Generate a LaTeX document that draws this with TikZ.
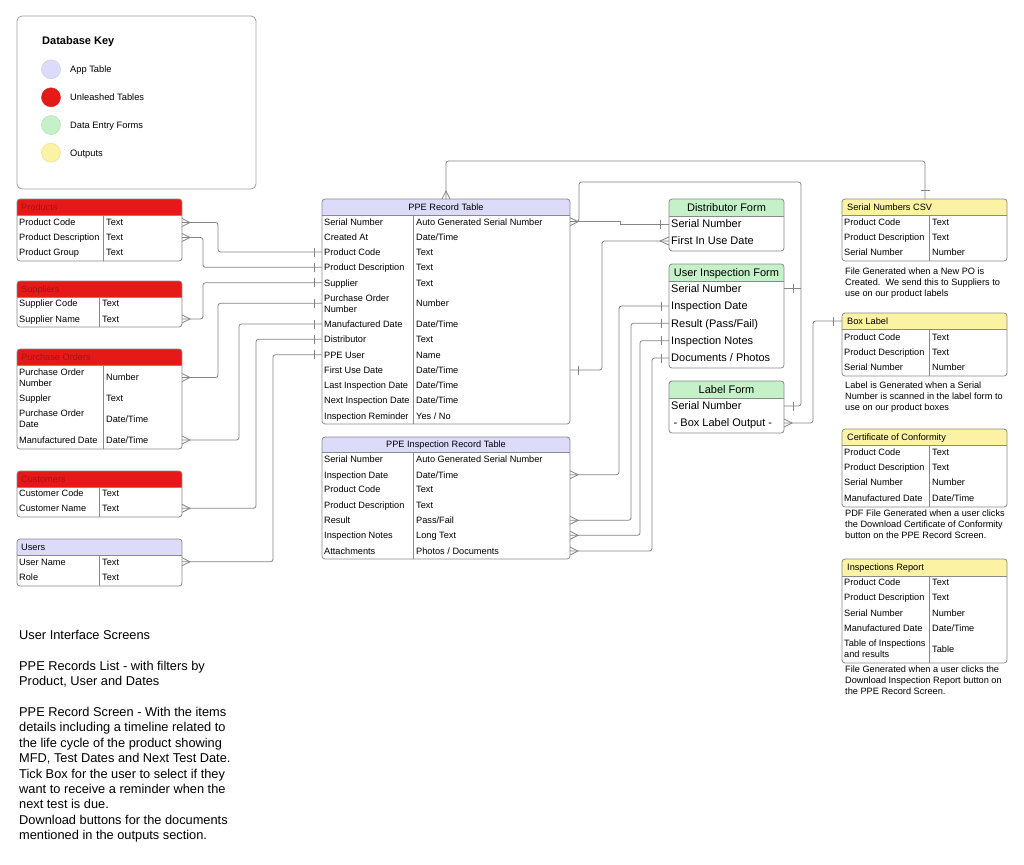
\documentclass[tikz,border=0pt]{standalone}
\usepackage{fontspec}
\setmainfont{Liberation Sans}
\usetikzlibrary{calc}
\definecolor{lav}{HTML}{DCDCFA}
\definecolor{ured}{HTML}{E61919}
\definecolor{uredtxt}{HTML}{A31414}
\definecolor{fgreen}{HTML}{C4F1C8}
\definecolor{oyel}{HTML}{FCF2A4}
\definecolor{bord}{HTML}{8A8A8A}
\definecolor{lnk}{HTML}{858585}
\tikzset{
  tb/.style={draw=bord, line width=0.8pt},
  cn/.style={draw=lnk, line width=0.8pt, rounded corners=2.5pt},
  cnt/.style={draw=lnk, line width=0.8pt, sharp corners},
  cell/.style={inner sep=0pt, font=\fontsize{9.2}{11}\selectfont, text height=8pt, text depth=1.4pt, anchor=west},
  celltwo/.style={inner sep=0pt, font=\fontsize{9.2}{11}\selectfont, align=left, anchor=west},
  hdr/.style={cell},
  ftxt/.style={inner sep=0pt, font=\fontsize{11}{13}\selectfont, text height=9.5pt, text depth=1.6pt, anchor=west},
  fhdr/.style={ftxt, anchor=center},
  big/.style={inner sep=0pt, font=\fontsize{12.8}{15.4}\selectfont, text height=11pt, text depth=2pt, anchor=west},
  keyt/.style={inner sep=0pt, font=\bfseries\fontsize{11}{13}\selectfont, text height=9.5pt, text depth=1.6pt, anchor=west},
}
\newcommand\boxtab[7]{%
  \begin{scope}
    \clip[rounded corners=3pt] (#2,#4) rectangle (#3,#6);
    \fill[white] (#2,#4) rectangle (#3,#6);
    \fill[#7] (#2,#4) rectangle (#3,#5);
  \end{scope}
  \draw[tb] (#2,#5) -- (#3,#5);
  \draw[tb,rounded corners=3pt] (#2,#4) rectangle (#3,#6);
  \coordinate (#1-hw) at (#2,{(#4+#5)/2});
}
\newcommand\erow[7]{%
  \coordinate (#1-w) at (#2,#5);
  \coordinate (#1-e) at (#3,#5);
  \node[cell] (#1-l) at ({#2+2},#5) {#6};
  \node[cell] (#1-r) at ({#4+3},#5) {#7};
}
\newcommand\erowt[7]{%
  \coordinate (#1-w) at (#2,#5);
  \coordinate (#1-e) at (#3,#5);
  \node[celltwo] (#1-l) at ({#2+2},#5) {#6};
  \node[cell] (#1-r) at ({#4+3},#5) {#7};
}
\newcommand\frow[5]{%
  \coordinate (#1-w) at (#2,#4);
  \coordinate (#1-e) at (#3,#4);
  \node[ftxt] (#1-l) at ({#2+2},#4) {#5};
}
\newcommand\desc[5]{%
  \node[cell] (#1-1) at (845,#2) {#3};
  \node[cell] (#1-2) at (845,{#2+11}) {#4};
  \node[cell] (#1-3) at (845,{#2+22}) {#5};
}
\newcommand\crowE[1]{\draw[cnt] ($(#1)+(0,-4)$) -- ($(#1)+(8,0)$) -- ($(#1)+(0,4)$);}
\newcommand\crowW[1]{\draw[cnt] ($(#1)+(0,-4)$) -- ($(#1)+(-9,0)$) -- ($(#1)+(0,4)$);}
\newcommand\crowN[1]{\draw[cnt] ($(#1)+(-4,0)$) -- ($(#1)+(0,-8)$) -- ($(#1)+(4,0)$);}
\newcommand\barV[2]{\draw[cnt] ($(#1)+(#2,-4.5)$) -- ++(0,9);}
\newcommand\barH[2]{\draw[cnt] ($(#1)+(-4.5,#2)$) -- ++(9,0);}

\begin{document}
\begin{tikzpicture}[x=1pt,y=-1pt]
\useasboundingbox (0,0) rectangle (1024,864);
\fill[white] (0,0) rectangle (1024,864);

% ---------------- key
\node[draw=gray!75, line width=0.8pt, rounded corners=5pt, minimum width=239pt, minimum height=173pt, inner sep=0pt] (key) at (136.5,102.5) {};
\node[keyt] (key-t) at (42,40.5) {Database Key};
\foreach \c/\t/\y [count=\i] in {lav/App Table/69.3, ured/Unleashed Tables/97.3, fgreen/Data Entry Forms/125, oyel/Outputs/152.7}{
  \node[circle, fill=\c, draw=\c!85!gray, line width=0.5pt, minimum size=19pt, inner sep=0pt] (key-c\i) at (51,\y) {};
  \node[cell, font=\fontsize{9.3}{11}\selectfont] (key-l\i) at (70,\y) {\t};
}

% ---------------- left tables
\boxtab{prod}{17}{182}{199}{215}{261}{ured}
\draw[tb] (103,215) -- (103,261);
\node[hdr,text=uredtxt] (prod-h) at (21,207) {Products};
\erow{prod-code}{17}{182}{103}{222.5}{Product Code}{Text}
\erow{prod-desc}{17}{182}{103}{237.5}{Product Description}{Text}
\erow{prod-grp}{17}{182}{103}{252.5}{Product Group}{Text}

\boxtab{sup}{17}{182}{281}{297}{327}{ured}
\draw[tb] (99,297) -- (99,327);
\node[hdr,text=uredtxt] (sup-h) at (21,289) {Suppliers};
\erow{sup-code}{17}{182}{99}{303.5}{Supplier Code}{Text}
\erow{sup-name}{17}{182}{99}{319}{Supplier Name}{Text}

\boxtab{po}{17}{182}{349}{365}{449}{ured}
\draw[tb] (103,365) -- (103,449);
\node[hdr,text=uredtxt] (po-h) at (21,357) {Purchase Orders};
\erowt{po-num}{17}{182}{103}{377.5}{Purchase Order\\Number}{Number}
\erow{po-sup}{17}{182}{103}{398.3}{Suppler}{Text}
\erowt{po-date}{17}{182}{103}{419}{Purchase Order\\Date}{Date/Time}
\erow{po-mfd}{17}{182}{103}{440}{Manufactured Date}{Date/Time}

\boxtab{cust}{17}{182}{471}{487}{517}{ured}
\draw[tb] (99,487) -- (99,517);
\node[hdr,text=uredtxt] (cust-h) at (21,479) {Customers};
\erow{cust-code}{17}{182}{99}{493.3}{Customer Code}{Text}
\erow{cust-name}{17}{182}{99}{508.3}{Customer Name}{Text}

\boxtab{usr}{17}{182}{539}{555}{586}{lav}
\draw[tb] (99,555) -- (99,586);
\node[hdr] (usr-h) at (21,547) {Users};
\erow{user-name}{17}{182}{99}{561.7}{User Name}{Text}
\erow{user-role}{17}{182}{99}{576.7}{Role}{Text}

% ---------------- PPE record table
\boxtab{ppe}{322}{570}{199}{215}{424}{lav}
\draw[tb] (413,215) -- (413,424);
\node[hdr,anchor=center] (ppe-h) at (446,207) {PPE Record Table};
\erow{ppe-serial}{322}{570}{413}{221.7}{Serial Number}{Auto Generated Serial Number}
\erow{ppe-created}{322}{570}{413}{237}{Created At}{Date/Time}
\erow{ppe-pcode}{322}{570}{413}{252}{Product Code}{Text}
\erow{ppe-pdesc}{322}{570}{413}{267.3}{Product Description}{Text}
\erow{ppe-sup}{322}{570}{413}{282.7}{Supplier}{Text}
\erowt{ppe-ponum}{322}{570}{413}{303.3}{Purchase Order\\Number}{Number}
\erow{ppe-mfd}{322}{570}{413}{324}{Manufactured Date}{Date/Time}
\erow{ppe-dist}{322}{570}{413}{339.3}{Distributor}{Text}
\erow{ppe-user}{322}{570}{413}{354.7}{PPE User}{Name}
\erow{ppe-first}{322}{570}{413}{370}{First Use Date}{Date/Time}
\erow{ppe-last}{322}{570}{413}{385.3}{Last Inspection Date}{Date/Time}
\erow{ppe-next}{322}{570}{413}{400.3}{Next Inspection Date}{Date/Time}
\erow{ppe-remind}{322}{570}{413}{415.7}{Inspection Reminder}{Yes / No}
\coordinate (ppe-top) at (446,199);

% ---------------- PPE inspection record table
\boxtab{pir}{322}{570}{437}{452}{559}{lav}
\draw[tb] (413,452) -- (413,559);
\node[hdr,anchor=center] (pir-h) at (446,444.5) {PPE Inspection Record Table};
\erow{pir-serial}{322}{570}{413}{459.3}{Serial Number}{Auto Generated Serial Number}
\erow{pir-idate}{322}{570}{413}{474.7}{Inspection Date}{Date/Time}
\erow{pir-pcode}{322}{570}{413}{489.3}{Product Code}{Text}
\erow{pir-pdesc}{322}{570}{413}{505}{Product Description}{Text}
\erow{pir-result}{322}{570}{413}{520.3}{Result}{Pass/Fail}
\erow{pir-notes}{322}{570}{413}{535.3}{Inspection Notes}{Long Text}
\erow{pir-attach}{322}{570}{413}{551}{Attachments}{Photos / Documents}

% ---------------- forms
\boxtab{df}{669}{784}{199}{216}{251}{fgreen}
\node[fhdr] (df-h) at (726.5,207.5) {Distributor Form};
\frow{df-serial}{669}{784}{224}{Serial Number}
\frow{df-first}{669}{784}{241}{First In Use Date}

\boxtab{uif}{669}{784}{264}{281}{368}{fgreen}
\node[fhdr] (uif-h) at (726.5,272.5) {User Inspection Form};
\frow{uif-serial}{669}{784}{288.5}{Serial Number}
\frow{uif-idate}{669}{784}{306}{Inspection Date}
\frow{uif-result}{669}{784}{323.3}{Result (Pass/Fail)}
\frow{uif-notes}{669}{784}{340.7}{Inspection Notes}
\frow{uif-docs}{669}{784}{358}{Documents / Photos}

\boxtab{lf}{669}{784}{381}{398}{433}{fgreen}
\node[fhdr] (lf-h) at (726.5,389.5) {Label Form};
\frow{lf-serial}{669}{784}{406}{Serial Number}
\frow{lf-out}{669}{784}{423}{\hspace*{2.5pt}- Box Label Output -}

% ---------------- outputs
\boxtab{csv}{842}{1007}{199}{215}{261}{oyel}
\draw[tb] (929,215) -- (929,261);
\node[hdr] (csv-h) at (847,207) {Serial Numbers CSV};
\erow{csv-pcode}{842}{1007}{929}{222}{Product Code}{Text}
\erow{csv-pdesc}{842}{1007}{929}{237}{Product Description}{Text}
\erow{csv-serial}{842}{1007}{929}{252.3}{Serial Number}{Number}
\desc{csv-d}{271}{File Generated when a New PO is}{Created.\ \ We send this to Suppliers to}{use on our product labels}
\coordinate (csv-top) at (925,199);

\boxtab{bl}{842}{1007}{313}{329}{376}{oyel}
\draw[tb] (929,329) -- (929,376);
\node[hdr] (bl-h) at (847,321) {Box Label};
\erow{bl-pcode}{842}{1007}{929}{336.7}{Product Code}{Text}
\erow{bl-pdesc}{842}{1007}{929}{351.7}{Product Description}{Text}
\erow{bl-serial}{842}{1007}{929}{366.7}{Serial Number}{Number}
\desc{bl-d}{385.3}{Label is Generated when a Serial}{Number is scanned in the label form to}{use on our product boxes}

\boxtab{coc}{842}{1007}{429}{445}{507}{oyel}
\draw[tb] (929,445) -- (929,507);
\node[hdr] (coc-h) at (847,437) {Certificate of Conformity};
\erow{coc-pcode}{842}{1007}{929}{452}{Product Code}{Text}
\erow{coc-pdesc}{842}{1007}{929}{467.3}{Product Description}{Text}
\erow{coc-serial}{842}{1007}{929}{482.3}{Serial Number}{Number}
\erow{coc-mfd}{842}{1007}{929}{497.7}{Manufactured Date}{Date/Time}
\desc{coc-d}{513.5}{PDF File Generated when a user clicks}{the Download Certificate of Conformity}{button on the PPE Record Screen.}

\boxtab{ir}{842}{1007}{559}{576}{663}{oyel}
\draw[tb] (929,576) -- (929,663);
\node[hdr] (ir-h) at (847,567.5) {Inspections Report};
\erow{ir-pcode}{842}{1007}{929}{582.3}{Product Code}{Text}
\erow{ir-pdesc}{842}{1007}{929}{597.3}{Product Description}{Text}
\erow{ir-serial}{842}{1007}{929}{612.7}{Serial Number}{Number}
\erow{ir-mfd}{842}{1007}{929}{628}{Manufactured Date}{Date/Time}
\erowt{ir-table}{842}{1007}{929}{648.8}{Table of Inspections\\and results}{Table}
\desc{ir-d}{669.5}{File Generated when a user clicks the}{Download Inspection Report button on}{the PPE Record Screen.}

% ---------------- bottom-left text
\foreach \y/\t [count=\i] in {635/User Interface Screens,
  665.8/PPE Records List - with filters by,
  681.2/{Product, User and Dates},
  712/PPE Record Screen - With the items,
  727.4/details including a timeline related to,
  742.8/the life cycle of the product showing,
  758.2/{MFD, Test Dates and Next Test Date.},
  773.6/Tick Box for the user to select if they,
  789/want to receive a reminder when the,
  804.4/next test is due.,
  819.8/Download buttons for the documents,
  835.2/mentioned in the outputs section.}{
  \node[big] (ui\i) at (19,\y) {\t};
}

% ---------------- connectors
\draw[cn] (prod-code-e) -- ++(36,0) |- (ppe-pcode-w);
\draw[cn] (prod-desc-e) -- ++(21,0) |- (ppe-pdesc-w);
\draw[cn] (sup-name-e) -- ++(21,0) |- (ppe-sup-w);
\draw[cn] (po-num-e) -- ++(36,0) |- (ppe-ponum-w);
\draw[cn] (po-mfd-e) -- ++(57,0) |- (ppe-mfd-w);
\draw[cn] (cust-name-e) -- ++(74,0) |- (ppe-dist-w);
\draw[cn] (user-name-e) -- ++(91,0) |- (ppe-user-w);
\foreach \r in {prod-code,prod-desc,sup-name,po-num,po-mfd,cust-name,user-name}{\crowE{\r-e}}
\foreach \r in {pcode,pdesc,sup,ponum,mfd,dist,user}{\barV{ppe-\r-w}{-8}}

\draw[cn] (ppe-top) -- ++(0,-38) -| (csv-top);
\crowN{ppe-top}
\barH{csv-top}{-9}

\draw[cnt] (ppe-serial-e) -- ++(50,0) |- (df-serial-w);
\draw[cn] (ppe-serial-e) -- ++(9,0) |- (801,182) |- (lf-serial-e);
\draw[cn] (uif-serial-e) -- ++(17,0);
\crowE{ppe-serial-e}
\barV{df-serial-w}{-9}
\barV{uif-serial-e}{9}
\barV{lf-serial-e}{9}

\draw[cn] (df-first-w) -- ++(-67,0) |- (ppe-first-e);
\crowW{df-first-w}
\barV{ppe-first-e}{8}

\draw[cn] (uif-idate-w) -- ++(-50,0) |- (pir-idate-e);
\draw[cn] (uif-result-w) -- ++(-38,0) |- (pir-result-e);
\draw[cn] (uif-notes-w) -- ++(-29,0) |- (pir-notes-e);
\draw[cn] (uif-docs-w) -- ++(-17,0) |- (pir-attach-e);
\foreach \r in {idate,result,notes,docs}{\barV{uif-\r-w}{-8}}
\foreach \r in {idate,result,notes,attach}{\crowE{pir-\r-e}}

\draw[cn] (lf-out-e) -- ++(29,0) |- (bl-hw);
\crowE{lf-out-e}
\barV{bl-hw}{-9}
\end{tikzpicture}
\end{document}
